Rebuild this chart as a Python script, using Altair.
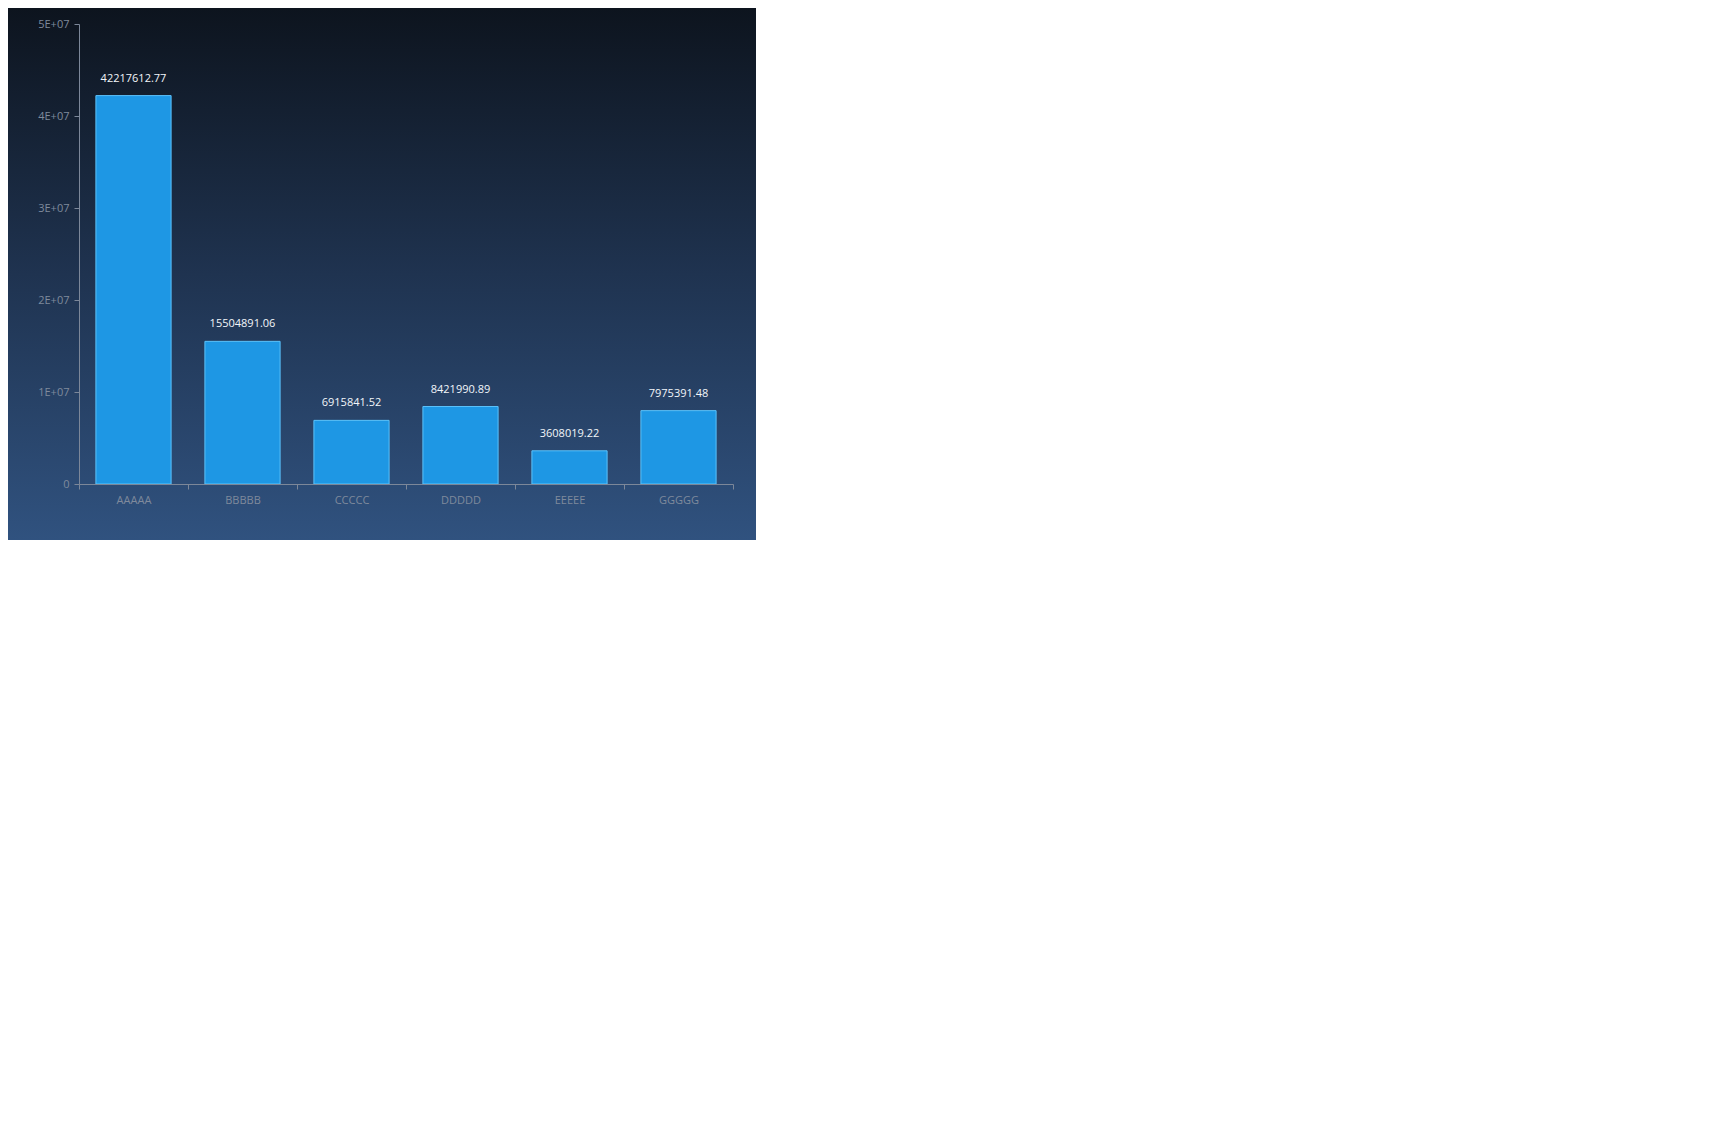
import altair as alt
import pandas as pd

categories = ["AAAAA", "BBBBB", "CCCCC", "DDDDD", "EEEEE", "GGGGG"]
values = [42217612.77, 15504891.06, 6915841.52, 8421990.89, 3608019.22, 7975391.48]
y_ticks = [0, 1e7, 2e7, 3e7, 4e7, 5e7]

df = pd.DataFrame({"cat": categories, "val": values})

W, H = 654, 460
PL, PT, PR, PB = 71, 16, 23, 56
FONT = "Open Sans"

bg = alt.Chart(alt.Data(values=[{}])).mark_rect(
    color=alt.LinearGradient(
        gradient="linear",
        stops=[alt.GradientStop(color="#0d141e", offset=0),
               alt.GradientStop(color="#1f3350", offset=0.5),
               alt.GradientStop(color="#30527f", offset=1)],
        x1=0, x2=0, y1=0, y2=1,
    )
).encode(
    x=alt.value(-PL), x2=alt.value(W + PR),
    y=alt.value(-PT), y2=alt.value(H + PB),
)

xenc = alt.X("cat:N", sort=categories, title=None,
             scale=alt.Scale(paddingInner=0, paddingOuter=0),
             axis=alt.Axis(tickBand="extent", labelAngle=0, tickSize=5, labelPadding=5,
                           domainColor="#7c8799", tickColor="#7c8799",
                           labelColor="#7f8a9c", labelFont=FONT, labelFontSize=11,
                           grid=False, zindex=1))
yenc = alt.Y("val:Q", title=None,
             scale=alt.Scale(domain=[0, 5e7], nice=False),
             axis=alt.Axis(values=y_ticks, tickSize=5, labelPadding=5,
                           labelExpr="datum.value == 0 ? '0' : format(datum.value/1e7, 'd') + 'E+07'",
                           domainColor="#7c8799", tickColor="#7c8799",
                           labelColor="#7f8a9c", labelFont=FONT, labelFontSize=11,
                           grid=False, zindex=1))

bars = alt.Chart(df).mark_bar(
    color="#1e97e4", stroke="#5cc2fa", strokeWidth=1,
    width=alt.RelativeBandSize(0.69),
).encode(x=xenc, y=yenc)

labels = alt.Chart(df).mark_text(
    color="#f2f6fa", font=FONT, fontSize=11, baseline="middle", dy=-17
).encode(
    x=alt.X("cat:N", sort=categories),
    y=alt.Y("val:Q"),
    text=alt.Text("val:Q", format=".2f"),
)

chart = alt.layer(bg, bars, labels).properties(
    width=W, height=H,
    padding={"left": PL, "top": PT, "right": PR, "bottom": PB},
    autosize=alt.AutoSizeParams(type="none"),
    background="#30527f",
).configure_view(stroke=None)

chart.save("out.html", embed_options={"renderer": "svg", "actions": False})
